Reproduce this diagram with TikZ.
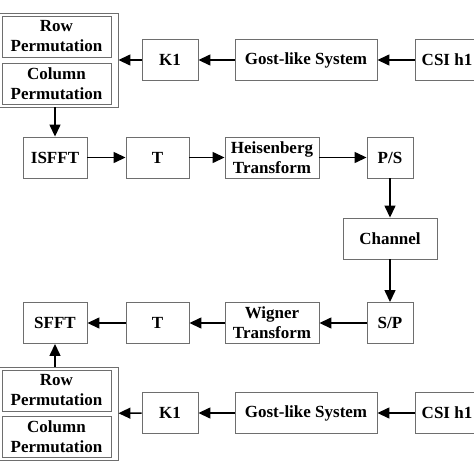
\documentclass[tikz,border=0pt]{standalone}
\usepackage{fontspec}
\setmainfont{Liberation Serif}
\usetikzlibrary{arrows.meta}
\definecolor{boxgray}{RGB}{110,110,110}
\tikzset{
  blk/.style={draw=boxgray, line width=0.9pt, fill=white, inner sep=0pt, align=center,
    font=\fontsize{17}{20}\selectfont\bfseries, minimum height=41pt},
  grp/.style={draw=boxgray, line width=0.9pt, inner sep=0pt},
  flow/.style={-{Triangle[length=12pt,width=11pt]}, line width=1.4pt}
}
\begin{document}
\begin{tikzpicture}[x=1pt,y=-1pt]
\useasboundingbox (0,0) rectangle (474,474);
% transmitter side
\node[grp, minimum width=123pt, minimum height=94pt] (permA) at (56.5,60) {};
\node[blk, minimum width=109pt] (rowA) at (56.5,36.5) {Row\\Permutation};
\node[blk, minimum width=109pt] (colA) at (56.5,83.5) {Column\\Permutation};
\node[blk, minimum width=56pt] (kA) at (170,60) {K1};
\node[blk, minimum width=142pt] (gostA) at (306,60) {Gost-like System};
\node[blk, minimum width=64pt] (csiA) at (447,60) {CSI h1};
\node[blk, minimum width=64pt] (isfft) at (55,157.5) {ISFFT};
\node[blk, minimum width=63pt] (tA) at (157.5,157.5) {T};
\node[blk, minimum width=94pt] (heis) at (272,157.5) {Heisenberg\\Transform};
\node[blk, minimum width=46pt] (ps) at (390,157.5) {P/S};
\node[blk, minimum width=94pt] (chan) at (390,238.5) {Channel};
% receiver side
\node[blk, minimum width=46pt] (sp) at (390,323) {S/P};
\node[blk, minimum width=94pt] (wig) at (272,323) {Wigner\\Transform};
\node[blk, minimum width=63pt] (tB) at (157.5,323) {T};
\node[blk, minimum width=64pt] (sfft) at (55,323) {SFFT};
\node[grp, minimum width=123pt, minimum height=93pt] (permB) at (56.5,413.5) {};
\node[blk, minimum width=109pt] (rowB) at (56.5,390.5) {Row\\Permutation};
\node[blk, minimum width=109pt] (colB) at (56.5,437) {Column\\Permutation};
\node[blk, minimum width=56pt] (kB) at (170,413) {K1};
\node[blk, minimum width=142pt] (gostB) at (306,413) {Gost-like System};
\node[blk, minimum width=64pt] (csiB) at (447,413) {CSI h1};
\draw[flow] (csiA) -- (gostA);
\draw[flow] (gostA) -- (kA);
\draw[flow] (kA) -- (permA);
\draw[flow] (permA.south -| isfft) -- (isfft.north);
\draw[flow] (isfft) -- (tA);
\draw[flow] (tA) -- (heis);
\draw[flow] (heis) -- (ps);
\draw[flow] (ps) -- (chan);
\draw[flow] (chan) -- (sp);
\draw[flow] (sp) -- (wig);
\draw[flow] (wig) -- (tB);
\draw[flow] (tB) -- (sfft);
\draw[flow] (permB.north -| sfft) -- (sfft.south);
\draw[flow] (csiB) -- (gostB);
\draw[flow] (gostB) -- (kB);
\draw[flow] (kB) -- (permB);
\end{tikzpicture}
\end{document}
